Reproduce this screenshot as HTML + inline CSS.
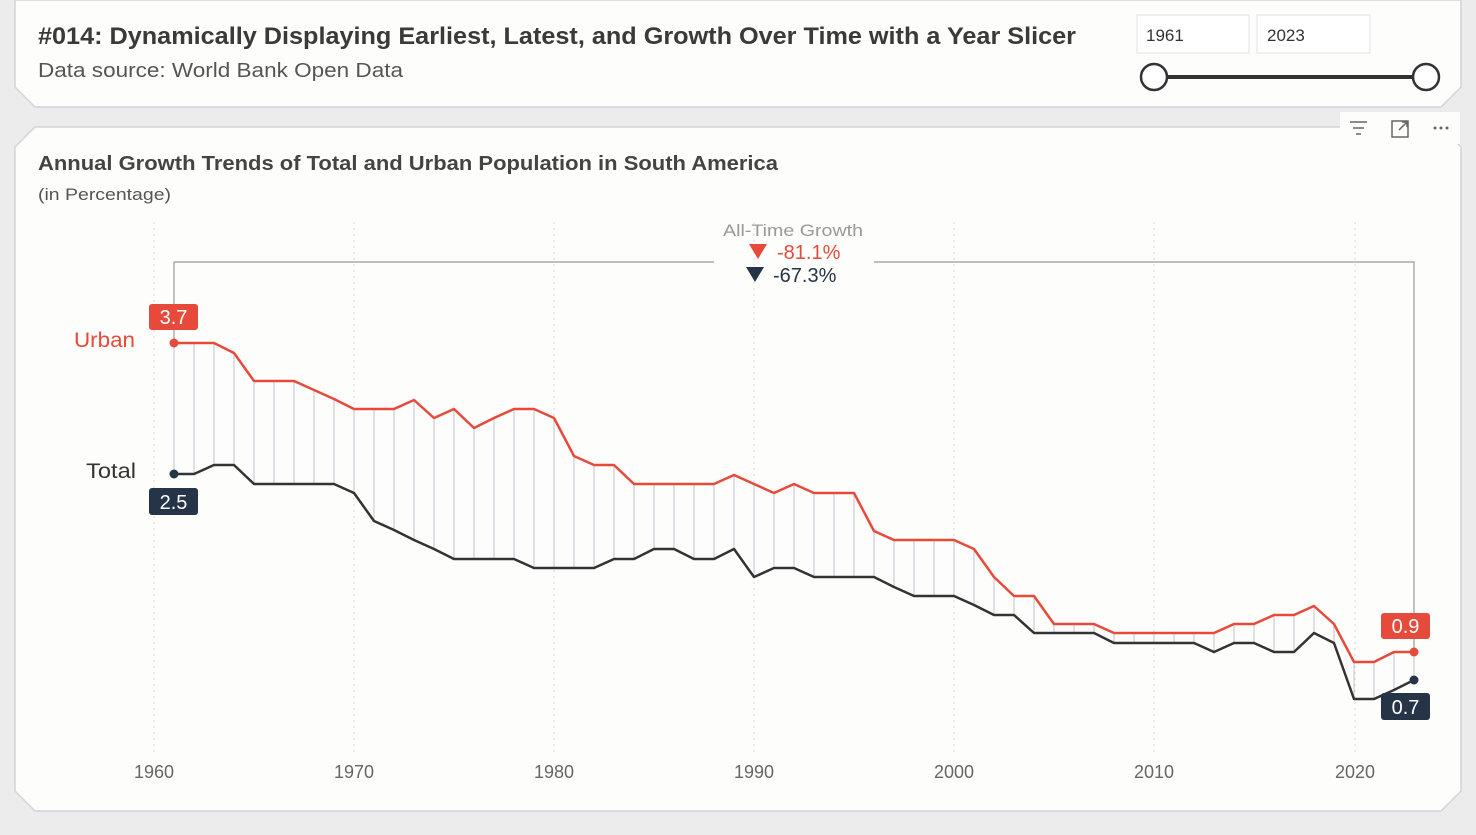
<!DOCTYPE html>
<html><head><meta charset="utf-8"><style>
html,body{margin:0;padding:0;}
body{width:1476px;height:830px;background:#ececec;font-family:"Liberation Sans",sans-serif;overflow:hidden;}
</style></head><body>
<svg width="1476" height="830" viewBox="0 0 1476 830" xmlns="http://www.w3.org/2000/svg" font-family="Liberation Sans, sans-serif">
<rect width="1476" height="830" fill="#ececec"/>
<polygon points="15,0 1461,0 1461,87 1441,107 35,107 15,87" fill="#fdfdfc" stroke="#d4d4d4" stroke-width="1.5"/>
<text x="38" y="44" font-size="24" font-weight="bold" fill="#3a3a3a" textLength="1038" lengthAdjust="spacingAndGlyphs">#014: Dynamically Displaying Earliest, Latest, and Growth Over Time with a Year Slicer</text>
<text x="38" y="77" font-size="20" fill="#555" textLength="365" lengthAdjust="spacingAndGlyphs">Data source: World Bank Open Data</text>
<rect x="1137" y="15" width="112" height="38" fill="#fff" stroke="#e2e2e2"/>
<rect x="1257" y="15" width="113" height="38" fill="#fff" stroke="#e2e2e2"/>
<text x="1146" y="41" font-size="17" fill="#333">1961</text>
<text x="1267" y="41" font-size="17" fill="#333">2023</text>
<line x1="1154" y1="77" x2="1426" y2="77" stroke="#333" stroke-width="4"/>
<circle cx="1154" cy="77" r="13" fill="#fff" stroke="#333" stroke-width="2.5"/>
<circle cx="1426" cy="77" r="13" fill="#fff" stroke="#333" stroke-width="2.5"/>
<polygon points="35,127 1441,127 1461,147 1461,791 1441,811 35,811 15,791 15,147" fill="#fdfdfc" stroke="#d4d4d4" stroke-width="1.5"/>
<rect x="1340" y="112" width="120" height="32" fill="#fdfdfc"/>
<g stroke="#666" stroke-width="1.5" fill="none">
<line x1="1350" y1="122" x2="1367" y2="122"/><line x1="1353" y1="128" x2="1364" y2="128"/><line x1="1356" y1="134" x2="1361" y2="134"/>
<rect x="1392" y="121" width="16" height="16"/><path d="M1399 130 L1407 122 M1402 122 H1407 V127"/>
</g>
<g fill="#666"><circle cx="1435" cy="128" r="1.5"/><circle cx="1441" cy="128" r="1.5"/><circle cx="1447" cy="128" r="1.5"/></g>
<text x="38" y="170" font-size="20" font-weight="bold" fill="#444" textLength="740" lengthAdjust="spacingAndGlyphs">Annual Growth Trends of Total and Urban Population in South America</text>
<text x="38" y="200" font-size="17" fill="#555" textLength="133" lengthAdjust="spacingAndGlyphs">(in Percentage)</text>
<g stroke="#d8d8d8" stroke-width="1" stroke-dasharray="2,4">
<line x1="154" y1="222" x2="154" y2="756"/><line x1="354" y1="222" x2="354" y2="756"/><line x1="554" y1="222" x2="554" y2="756"/><line x1="754" y1="222" x2="754" y2="756"/><line x1="954" y1="222" x2="954" y2="756"/><line x1="1154" y1="222" x2="1154" y2="756"/><line x1="1355" y1="222" x2="1355" y2="756"/>
</g>
<g font-size="18" fill="#666" text-anchor="middle">
<text x="154" y="778">1960</text><text x="354" y="778">1970</text><text x="554" y="778">1980</text><text x="754" y="778">1990</text><text x="954" y="778">2000</text><text x="1154" y="778">2010</text><text x="1355" y="778">2020</text>
</g>
<path d="M174 343 V262 H714 M874 262 H1414 V652" fill="none" stroke="#9a9a9a" stroke-width="1.2"/>
<text x="793" y="236" font-size="17" fill="#999" text-anchor="middle" textLength="140" lengthAdjust="spacingAndGlyphs">All-Time Growth</text>
<polygon points="749,244 767,244 758,259" fill="#e64a3b"/>
<text x="777" y="259" font-size="20" fill="#e64a3b">-81.1%</text>
<polygon points="746,267 764,267 755,282" fill="#253447"/>
<text x="773" y="282" font-size="20" fill="#253447">-67.3%</text>
<path fill="none" stroke="#c4c4cc" stroke-width="1" d="M174 343V474M194 343V474M214 343V465M234 353V465M254 381V484M274 381V484M294 381V484M314 390V484M334 399V484M354 409V493M374 409V521M394 409V530M414 400V540M434 418V549M454 409V559M474 428V559M494 418V559M514 409V559M534 409V568M554 418V568M574 456V568M594 465V568M614 465V559M634 484V559M654 484V549M674 484V549M694 484V559M714 484V559M734 475V549M754 484V577M774 493V568M794 484V568M814 493V577M834 493V577M854 493V577M874 531V577M894 540V587M914 540V596M934 540V596M954 540V596M974 549V605M994 577V615M1014 596V615M1034 596V633M1054 624V633M1074 624V633M1094 624V633M1114 633V643M1134 633V643M1154 633V643M1174 633V643M1194 633V643M1214 633V652M1234 624V643M1254 624V643M1274 615V652M1294 615V652M1314 606V633M1334 624V643M1354 662V699M1374 662V699M1394 652V690M1414 652V680"/>
<polyline fill="none" stroke="#333" stroke-width="2.5" stroke-linejoin="round" points="174,474 194,474 214,465 234,465 254,484 274,484 294,484 314,484 334,484 354,493 374,521 394,530 414,540 434,549 454,559 474,559 494,559 514,559 534,568 554,568 574,568 594,568 614,559 634,559 654,549 674,549 694,559 714,559 734,549 754,577 774,568 794,568 814,577 834,577 854,577 874,577 894,587 914,596 934,596 954,596 974,605 994,615 1014,615 1034,633 1054,633 1074,633 1094,633 1114,643 1134,643 1154,643 1174,643 1194,643 1214,652 1234,643 1254,643 1274,652 1294,652 1314,633 1334,643 1354,699 1374,699 1394,690 1414,680"/>
<polyline fill="none" stroke="#e64a3b" stroke-width="2.5" stroke-linejoin="round" points="174,343 194,343 214,343 234,353 254,381 274,381 294,381 314,390 334,399 354,409 374,409 394,409 414,400 434,418 454,409 474,428 494,418 514,409 534,409 554,418 574,456 594,465 614,465 634,484 654,484 674,484 694,484 714,484 734,475 754,484 774,493 794,484 814,493 834,493 854,493 874,531 894,540 914,540 934,540 954,540 974,549 994,577 1014,596 1034,596 1054,624 1074,624 1094,624 1114,633 1134,633 1154,633 1174,633 1194,633 1214,633 1234,624 1254,624 1274,615 1294,615 1314,606 1334,624 1354,662 1374,662 1394,652 1414,652"/>
<circle cx="174" cy="343" r="4.5" fill="#e64a3b"/><circle cx="174" cy="474" r="4.5" fill="#253447"/>
<circle cx="1414" cy="652" r="4.5" fill="#e64a3b"/><circle cx="1414" cy="680" r="4.5" fill="#253447"/>
<text x="135" y="347" font-size="21" fill="#e64a3b" text-anchor="end" textLength="61" lengthAdjust="spacingAndGlyphs">Urban</text>
<text x="136" y="478" font-size="21" fill="#333" text-anchor="end" textLength="50" lengthAdjust="spacingAndGlyphs">Total</text>
<g font-size="20" fill="#fff" text-anchor="middle">
<rect x="149" y="304" width="49" height="26" rx="3" fill="#e64a3b"/><text x="173.5" y="324">3.7</text>
<rect x="149" y="488" width="49" height="27" rx="3" fill="#253447"/><text x="173.5" y="509">2.5</text>
<rect x="1381" y="613" width="49" height="26" rx="3" fill="#e64a3b"/><text x="1405.5" y="633">0.9</text>
<rect x="1381" y="693" width="49" height="27" rx="3" fill="#253447"/><text x="1405.5" y="714">0.7</text>
</g>
</svg>
</body></html>
